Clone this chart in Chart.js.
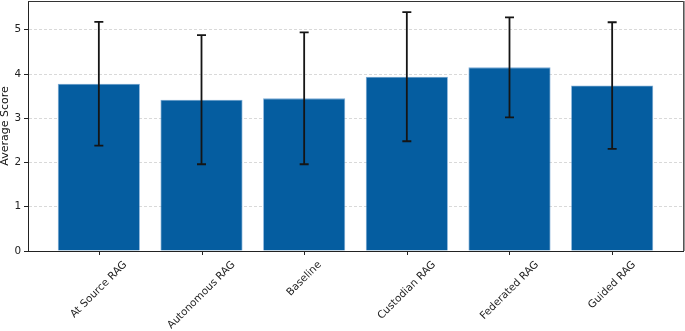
<!DOCTYPE html>
<html>
<head>
<meta charset="utf-8">
<script src="https://cdn.jsdelivr.net/npm/chart.js@4.4.1/dist/chart.umd.min.js"></script>
<style>
    html, body { margin: 0; padding: 0; background: #ffffff; }
    canvas { display: block; }
</style>
</head>
<body>
<canvas id="myChart" width="685" height="331"></canvas>
<script>
const categories = ['At Source RAG', 'Autonomous RAG', 'Baseline', 'Custodian RAG', 'Federated RAG', 'Guided RAG'];
const averageScores = [3.78, 3.42, 3.45, 3.94, 4.15, 3.74];
const stdDevs = [1.40, 1.46, 1.49, 1.46, 1.13, 1.43];
const yTicks = [0, 1, 2, 3, 4, 5];

const barColor = '#055da0';
const labelFont = '"DejaVu Sans", sans-serif';

// matplotlib-style error bars, drawn through the scales
const errorBarPlugin = {
    id: 'errorBars',
    afterDatasetsDraw(chart) {
        let c = chart.ctx;
        let xs = chart.scales.x;
        let ys = chart.scales.y;
        c.save();
        c.strokeStyle = '#151515';
        c.lineWidth = 1.8;
        categories.forEach(function (cat, i) {
            let x = xs.getPixelForValue(i);
            let top = ys.getPixelForValue(averageScores[i] + stdDevs[i]);
            let bot = ys.getPixelForValue(averageScores[i] - stdDevs[i]);
            c.beginPath();
            c.moveTo(x, top);
            c.lineTo(x, bot);
            c.moveTo(x - 4.5, top);
            c.lineTo(x + 4.5, top);
            c.moveTo(x - 4.5, bot);
            c.lineTo(x + 4.5, bot);
            c.stroke();
        });
        c.restore();
    }
};

// top/right spines, x tick marks and rotated category labels (centred under the tick like matplotlib)
const framePlugin = {
    id: 'frame',
    afterDraw(chart) {
        let c = chart.ctx;
        let area = chart.chartArea;
        let xs = chart.scales.x;
        c.save();
        c.strokeStyle = '#333333';
        c.lineWidth = 1.2;
        c.beginPath();
        c.moveTo(area.left, area.top + 0.5);
        c.lineTo(area.right, area.top + 0.5);
        c.stroke();
        c.strokeStyle = '#555555';
        c.lineWidth = 1.6;
        c.beginPath();
        c.moveTo(area.right + 0.8, area.top);
        c.lineTo(area.right + 0.8, area.bottom);
        c.stroke();

        c.strokeStyle = '#222222';
        c.lineWidth = 1;
        c.beginPath();
        categories.forEach(function (cat, i) {
            let x = Math.round(xs.getPixelForValue(i)) + 0.5;
            c.moveTo(x, area.bottom);
            c.lineTo(x, area.bottom + 4);
        });
        c.stroke();

        c.font = '10.4px ' + labelFont;
        c.fillStyle = '#222222';
        c.textAlign = 'center';
        c.textBaseline = 'middle';
        categories.forEach(function (cat, i) {
            let x = xs.getPixelForValue(i);
            let w = c.measureText(cat).width;
            let half = (w + 11.6) / (2 * Math.SQRT2);
            c.save();
            c.translate(x, xs.top + 8 + half);
            c.rotate(-Math.PI / 4);
            c.fillText(cat, 0, 0);
            c.restore();
        });
        c.restore();
    }
};

ctx = document.getElementById('myChart');
var chart = new Chart(ctx, {
    type: 'bar',
    data: {
        datasets: [{
            label: 'Average Score',
            data: averageScores.map((v, i) => ({ x: i, y: v })),
            backgroundColor: barColor,
            borderColor: 'rgba(90, 150, 205, 0.8)',
            borderWidth: 0.8,
            barPercentage: 0.8,
            categoryPercentage: 1.0
        }]
    },
    options: {
        responsive: false,
        animation: false,
        devicePixelRatio: 1,
        layout: {
            padding: { top: 1, right: 2, left: 0, bottom: 0 }
        },
        plugins: {
            legend: { display: false },
            tooltip: { enabled: false }
        },
        scales: {
            x: {
                type: 'linear',
                min: -0.69,
                max: 5.69,
                offset: false,
                afterBuildTicks: (scale) => { scale.ticks = categories.map((c, i) => ({ value: i })); },
                afterFit: (scale) => {
                    scale.height = 80;
                    scale.paddingLeft = 0;
                    scale.paddingRight = 0;
                },
                ticks: { display: false },
                grid: { display: false, offset: false },
                border: { display: true, color: '#222222', width: 1 }
            },
            y: {
                min: 0,
                max: 5.65,
                afterBuildTicks: (scale) => { scale.ticks = yTicks.map((v) => ({ value: v })); },
                afterFit: (scale) => {
                    scale.width = 28;
                    scale.paddingTop = 0;
                    scale.paddingBottom = 0;
                },
                ticks: {
                    color: '#222222',
                    padding: 3,
                    font: { family: labelFont, size: 10.4 }
                },
                grid: {
                    color: '#cfcfcf',
                    lineWidth: 0.8,
                    drawTicks: true,
                    tickLength: 4,
                    tickColor: '#222222',
                    tickWidth: 1
                },
                border: { display: true, color: '#222222', width: 1, dash: [3, 2] },
                title: {
                    display: true,
                    text: 'Average Score',
                    color: '#111111',
                    padding: { top: 0, bottom: 0 },
                    font: { family: labelFont, size: 11, lineHeight: 1.0 }
                }
            }
        }
    },
    plugins: [errorBarPlugin, framePlugin]
});
</script>
</body>
</html>
